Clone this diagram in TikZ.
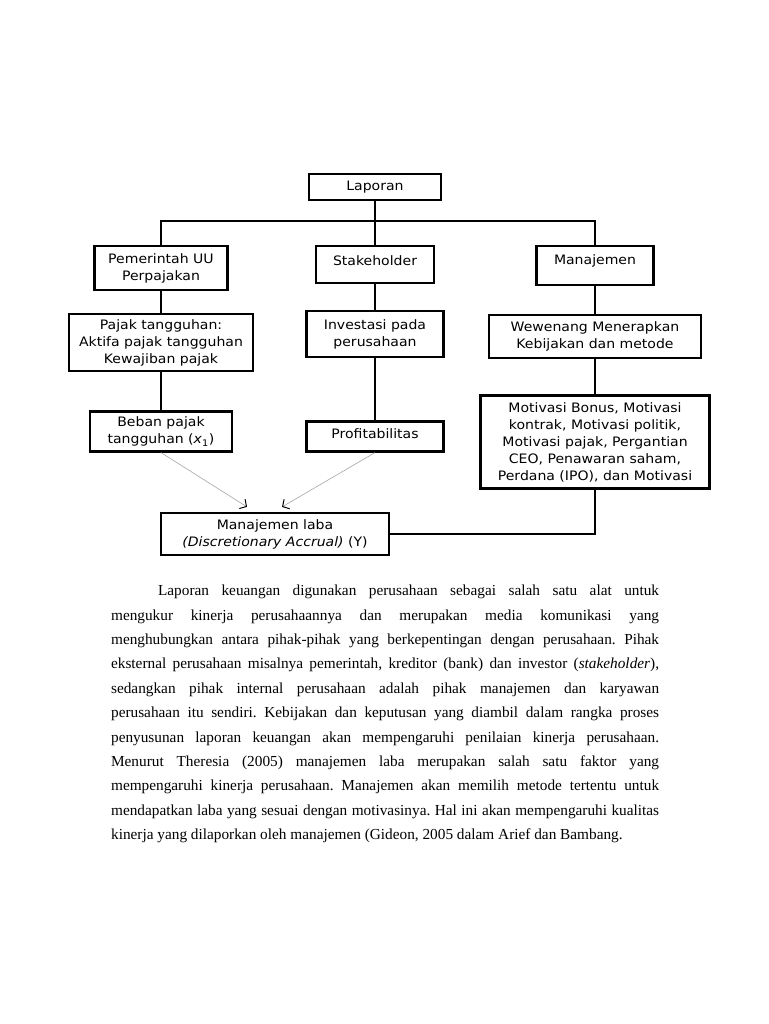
\documentclass[tikz,border=0pt]{standalone}
\usepackage{fontspec}
\setmainfont{Liberation Serif}
\newfontfamily\boxfont[FakeStretch=1.08]{DejaVu Sans}
\usetikzlibrary{positioning,arrows.meta}

\begin{document}
\begin{tikzpicture}
                [
                x=1pt, y=1pt,
                every node/.style={rectangle, draw, line width=2.2pt, inner sep=0pt, align=center, font=\boxfont\fontsize{13}{17}\selectfont},
                link/.style={draw, line width=1.1pt},
                influence/.style={->, >={Straight Barb[length=5pt,width=11pt,line width=1pt,black]}, draw=gray!70, line width=0.6pt}
                ]
                \path[fill=white] (0,0) rectangle (768,-1024);
                % Root node
                \node (laporan) [minimum width=132pt, minimum height=26pt] at (375,-187) {Laporan};
                \coordinate (bus) at (375,-221);
                % Level 1
                \node (pemerintah) [minimum width=133pt, minimum height=44pt, anchor=north] at (161,-245) {Pemerintah UU\\Perpajakan};
                \node (stakeholder) [minimum width=118pt, minimum height=37pt, text depth=9pt, anchor=north] at (375,-245) {Stakeholder};
                \node (manajemen) [minimum width=117pt, minimum height=39pt, text depth=13pt, anchor=north] at (595,-245) {Manajemen};
                % Level 2
                \node (pajak) [minimum width=184pt, minimum height=57pt, below=22pt of pemerintah] {Pajak tangguhan:\\Aktifa pajak tangguhan\\Kewajiban pajak};
                \node (investasi) [minimum width=137pt, minimum height=46pt, below=26pt of stakeholder] {Investasi pada\\perusahaan};
                \node (wewenang) [minimum width=212pt, minimum height=43pt, below=28pt of manajemen] {Wewenang Menerapkan\\Kebijakan dan metode};
                % Level 3
                \node (beban) [minimum width=142pt, minimum height=40pt, below=38pt of pajak] {Beban pajak\\tangguhan (\textit{x}\textsubscript{1})};
                \node (profit) [minimum width=137pt, minimum height=30pt, text depth=6pt, below=62pt of investasi] {Profitabilitas};
                \node (motivasi) [minimum width=229pt, minimum height=93pt, below=35pt of wewenang] {Motivasi Bonus, Motivasi\\kontrak, Motivasi politik,\\Motivasi pajak, Pergantian\\CEO, Penawaran saham,\\Perdana (IPO), dan Motivasi};
                % Dependent node
                \node (laba) [minimum width=228pt, minimum height=42pt] at (275,-534) {Manajemen laba\\\textit{(Discretionary Accrual)} (Y)};
                % Connectors
                \draw[link] (laporan.south) -- (stakeholder.north);
                \draw[link] (pemerintah.north) |- (bus) -| (manajemen.north);
                \draw[link] (pemerintah.south) -- (pajak.north);
                \draw[link] (pajak.south) -- (beban.north);
                \draw[link] (stakeholder.south) -- (investasi.north);
                \draw[link] (investasi.south) -- (profit.north);
                \draw[link] (manajemen.south) -- (wewenang.north);
                \draw[link] (wewenang.south) -- (motivasi.north);
                \draw[link] (motivasi.south) |- (laba.east);
                \draw[influence] (beban.south) -- ([xshift=-28pt,yshift=5pt]laba.north);
                \draw[influence] (profit.south) -- ([xshift=7pt,yshift=5pt]laba.north);
                % Paragraph
                \node (teks) [draw=none, anchor=north west, text width=548pt, align=justify, font=\fontsize{15.3}{24.4}\selectfont] at (110,-584)
                {\frenchspacing\tolerance=9999\hyphenpenalty=10000\exhyphenpenalty=10000
                \hspace*{47pt}Laporan keuangan digunakan perusahaan sebagai salah satu alat untuk\linebreak
                mengukur kinerja perusahaannya dan merupakan media komunikasi yang\linebreak
                menghubungkan antara pihak-pihak yang berkepentingan dengan perusahaan. Pihak\linebreak
                eksternal perusahaan misalnya pemerintah, kreditor (bank) dan investor (\textit{stakeholder}),\linebreak
                sedangkan pihak internal perusahaan adalah pihak manajemen dan karyawan\linebreak
                perusahaan itu sendiri. Kebijakan dan keputusan yang diambil dalam rangka proses\linebreak
                penyusunan laporan keuangan akan mempengaruhi penilaian kinerja perusahaan.\linebreak
                Menurut Theresia (2005) manajemen laba merupakan salah satu faktor yang\linebreak
                mempengaruhi kinerja perusahaan. Manajemen akan memilih metode tertentu untuk\linebreak
                mendapatkan laba yang sesuai dengan motivasinya. Hal ini akan mempengaruhi kualitas\linebreak
                kinerja yang dilaporkan oleh manajemen (Gideon, 2005 dalam Arief dan Bambang.};
            \end{tikzpicture}
\end{document}
